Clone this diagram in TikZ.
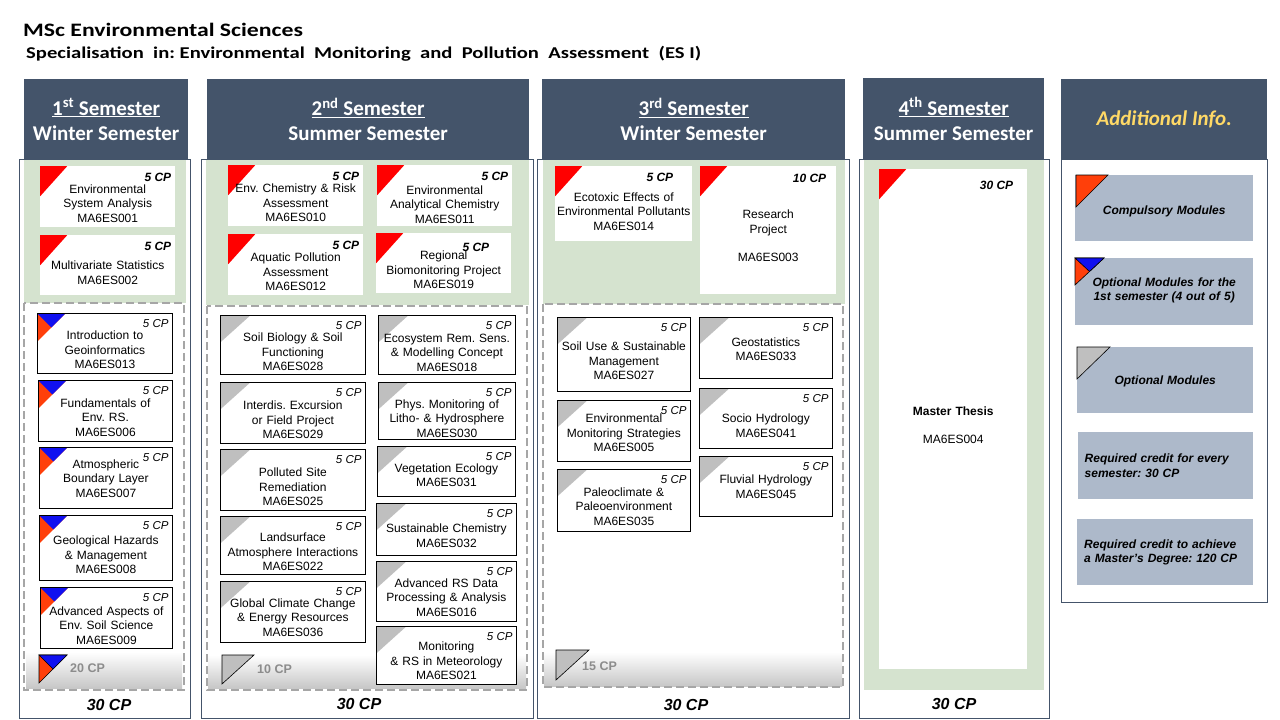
\documentclass[tikz,border=0pt]{standalone}
\usepackage{fontspec}
\setmainfont{Liberation Sans}
\newfontfamily\headfont{Carlito}
\newfontfamily\titlefont{Carlito}[FakeStretch=1.25]

\definecolor{hdr}{HTML}{44546A}
\definecolor{zonegreen}{HTML}{D5E3CF}
\definecolor{legfill}{HTML}{ADB9CA}
\definecolor{gold}{HTML}{FFD966}
\definecolor{cpred}{HTML}{FF0000}
\definecolor{optorange}{HTML}{FF3F0A}
\definecolor{optblue}{HTML}{1010F0}
\definecolor{optgrey}{HTML}{BFBFBF}
\definecolor{dashgrey}{HTML}{A6A6A6}
\definecolor{sumgrey}{HTML}{8C8C8C}

\newcommand\modfnt{\fontsize{12}{14.5}\selectfont}
\newcommand\cpfnt{\fontsize{12}{13}\selectfont\bfseries\itshape}
\newcommand\ocpfnt{\fontsize{11.5}{13}\selectfont\itshape}
\newcommand\legfnt{\fontsize{12}{14.5}\selectfont\bfseries\itshape}
\newcommand\totfnt{\fontsize{16}{18}\selectfont\bfseries\itshape}
\newcommand\sumfnt{\fontsize{12.5}{14}\selectfont\bfseries}

\tikzset{
  modbase/.style={anchor=north west, inner sep=0pt, align=center, font=\modfnt, text height=22pt},
  sz/.style 2 args={minimum width=#1pt, minimum height=#2pt, text width=#1pt},
  cplab/.style={anchor=north east, inner xsep=4pt, inner ysep=6.5pt, font=\cpfnt},
  cp/.style={label={[cplab]north east:{#1}}},
  cp/.default={5 CP},
  compmod/.style={modbase, fill=white,
    path picture={\fill[cpred] (path picture bounding box.north west) -- ++(27pt,0pt) -- ++(-27pt,-30pt) -- cycle;}},
  optmod/.style={modbase, fill=white, draw=black, line width=0.75pt,
    label={[cplab,font=\ocpfnt]north east:{5 CP}},
    path picture={\fill[optgrey] (path picture bounding box.north west) -- ++(30pt,0pt) -- ++(-30pt,-27pt) -- cycle;}},
  geomod/.style={optmod,
    path picture={\fill[optorange] (path picture bounding box.north west) -- ++(28pt,0pt) -- ++(-28pt,-28pt) -- cycle;
      \fill[optblue] (path picture bounding box.north west) -- ++(28pt,0pt) -- ++(-14pt,-14pt) -- cycle;}},
  semhead/.style={anchor=north west, fill=hdr, text=white, inner sep=0pt, align=center,
    font=\headfont\bfseries\fontsize{21}{25}\selectfont},
  colframe/.style={draw=hdr, line width=0.8pt, fill=white},
  optzone/.style={draw=dashgrey, line width=2.6pt, dash pattern=on 8pt off 4pt},
  legbox/.style={anchor=north west, fill=legfill, inner sep=0pt, font=\legfnt, text width=162pt, align=center, text height=8.6pt},
  icon/.style={draw=black, line width=0.6pt},
  sumcp/.style={anchor=west, inner sep=0pt, text=sumgrey, font=\sumfnt},
  tot/.style={inner sep=0pt, font=\totfnt}
}

\begin{document}
\frenchspacing
\begin{tikzpicture}[x=1pt,y=-1pt]
  \useasboundingbox (0,0) rectangle (1280,720);

  % title
  \node (title) at (23,36) [anchor=base west, inner sep=0pt, font=\titlefont\bfseries\fontsize{19}{22}\selectfont] {MSc Environmental Sciences};
  \node (subtitle) at (26,58) [anchor=base west, inner sep=0pt, font=\titlefont\bfseries\fontsize{16.5}{19}\selectfont]
    {Specialisation\ \ in: Environmental\ \ Monitoring\ \ and\ \ Pollution\ \ Assessment\ \ (ES I)};

  % column frames
  \draw[colframe] (19,159) rectangle (190,718);
  \draw[colframe] (201,159) rectangle (533,718);
  \draw[colframe] (537,159) rectangle (849,718);
  \draw[colframe] (859,159) rectangle (1049,718);
  \draw[colframe] (1061,159) rectangle (1267,602);

  % compulsory zones
  \fill[zonegreen] (24,160) rectangle (186,303);
  \fill[zonegreen] (206,160) rectangle (529,305);
  \fill[zonegreen] (543,160) rectangle (845,304);
  \fill[zonegreen] (864,160) rectangle (1044,690);

  % optional zones
  \shade[top color=white, bottom color=black!22] (26,652) rectangle (182,688);
  \shade[top color=white, bottom color=black!22] (208,655) rectangle (526,688);
  \shade[top color=white, bottom color=black!22] (544,652) rectangle (842,686);
  \draw[optzone] (24,303) rectangle (184,690);
  \draw[optzone] (207,306) rectangle (527,690);
  \draw[optzone] (543,304) rectangle (843,687);

  % headers
  \node (h1) at (24,79) [semhead, minimum width=164pt, minimum height=80pt] {\underline{1\textsuperscript{st} Semester}\\Winter Semester};
  \node (h2) at (207,79) [semhead, minimum width=322pt, minimum height=80pt] {\underline{2\textsuperscript{nd} Semester}\\Summer Semester};
  \node (h3) at (542,79) [semhead, minimum width=303pt, minimum height=80pt] {\underline{3\textsuperscript{rd} Semester}\\Winter Semester};
  \node (h4) at (863,78) [semhead, minimum width=181pt, minimum height=81pt] {\underline{4\textsuperscript{th} Semester}\\Summer Semester};
  \node (h5) at (1061,79) [semhead, minimum width=206pt, minimum height=81pt, text=gold, font=\headfont\bfseries\itshape\fontsize{21}{25}\selectfont] {Additional Info.};

  % 1st semester
  \node (m1) at (40,166) [compmod, sz={135}{61}, cp] {Environmental\\System Analysis\\MA6ES001};
  \node (m2) at (40,235) [compmod, sz={135}{60}, cp, text height=24pt] {Multivariate Statistics\\MA6ES002};
  \node (o1) at (37,313) [geomod, sz={135}{60}] {Introduction to\\Geoinformatics\\MA6ES013};
  \node (o2) at (38,380) [geomod, sz={134}{61}] {Fundamentals of\\Env. RS.\\MA6ES006};
  \node (o3) at (39,447) [geomod, sz={133}{61}, text height=10pt] {Atmospheric\\Boundary Layer\\MA6ES007};
  \node (o4) at (39,515) [geomod, sz={133}{65}, text height=23pt] {Geological Hazards\\\& Management\\MA6ES008};
  \node (o5) at (40,587) [geomod, sz={132}{61}, text height=24pt] {Advanced Aspects of\\Env. Soil Science\\MA6ES009};

  % 2nd semester
  \node (m3) at (228,165) [compmod, sz={135}{61}, cp, text height=23pt] {Env. Chemistry \& Risk\\Assessment\\MA6ES010};
  \node (m4) at (377,165) [compmod, sz={135}{61}, cp, text height=26pt] {Environmental\\Analytical Chemistry\\MA6ES011};
  \node (m5) at (228,234) [compmod, sz={135}{61}, cp, text height=23pt] {Aquatic Pollution\\Assessment\\MA6ES012};
  \node (m6) at (376,233) [compmod, sz={135}{60}, label={[cplab, xshift=-18pt, yshift=-3pt]north east:{5 CP}}] {Regional\\Biomonitoring Project\\MA6ES019};
  \node (o6) at (220,315) [optmod, sz={145}{59}, text height=23pt] {Soil Biology \& Soil\\Functioning\\MA6ES028};
  \node (o7) at (378,315) [optmod, sz={137}{59}, text height=24pt] {Ecosystem Rem. Sens.\\\& Modelling Concept\\MA6ES018};
  \node (o8) at (220,382) [optmod, sz={145}{61}, text height=23pt] {Interdis. Excursion\\or Field Project\\MA6ES029};
  \node (o9) at (378,382) [optmod, sz={137}{57}, text height=24pt] {Phys. Monitoring of\\Litho- \& Hydrosphere\\MA6ES030};
  \node (o10) at (220,449) [optmod, sz={145}{61}, text height=23pt] {Polluted Site\\Remediation\\MA6ES025};
  \node (o11) at (377,446) [optmod, sz={138}{50}, text height=16pt] {Vegetation Ecology\\MA6ES031};
  \node (o12) at (220,516) [optmod, sz={145}{58}] {Landsurface\\Atmosphere Interactions\\MA6ES022};
  \node (o13) at (376,503) [optmod, sz={140}{52}, text height=21pt] {Sustainable Chemistry\\MA6ES032};
  \node (o14) at (220,581) [optmod, sz={145}{61}, text height=20pt] {Global Climate Change\\\& Energy Resources\\MA6ES036};
  \node (o15) at (376,561) [optmod, sz={140}{60}, text height=21pt] {Advanced RS Data\\Processing \& Analysis\\MA6ES016};
  \node (o16) at (376,626) [optmod, sz={140}{58}, text height=20pt] {Monitoring\\\& RS in Meteorology\\MA6ES021};

  % 3rd semester
  \node (m7) at (555,166) [compmod, sz={137}{75}, text height=24pt, label={[cplab, xshift=-15pt]north east:{5 CP}}] {Ecotoxic Effects of\\Environmental Pollutants\\MA6ES014};
  \node (m8) at (700,166) [compmod, sz={136}{128}, text height=20pt, label={[cplab, xshift=-6pt, yshift=-1pt]north east:{10 CP}}] {Research\\Project\\[14pt]MA6ES003};
  \node (o17) at (557,317) [optmod, sz={133}{74}] {Soil Use \& Sustainable\\Management\\MA6ES027};
  \node (o18) at (699,317) [optmod, sz={133}{61}, text height=11pt] {Geostatistics\\MA6ES033};
  \node (o19) at (557,400) [optmod, sz={133}{61}, text height=13pt] {Environmental\\Monitoring Strategies\\MA6ES005};
  \node (o20) at (699,388) [optmod, sz={133}{60}, text height=23pt] {Socio Hydrology\\MA6ES041};
  \node (o21) at (557,469) [optmod, sz={133}{62}, text height=21pt] {Paleoclimate \&\\Paleoenvironment\\MA6ES035};
  \node (o22) at (699,456) [optmod, sz={133}{60}, text height=9.5pt] {Fluvial Hydrology\\MA6ES045};

  % 4th semester
  \node (m9) at (879,169) [compmod, sz={148}{500}, text height=21pt, label={[cplab, xshift=-10pt, yshift=-5pt]north east:{30 CP}}] {\textbf{Master Thesis}\\[13pt]MA6ES004};

  % credits of the optional parts
  \filldraw[icon, fill=optorange] (39,655) -- ++(28,0) -- ++(-28,28) -- cycle;
  \filldraw[icon, fill=optblue] (39,655) -- ++(28,0) -- ++(-14,14) -- cycle;
  \node (sum1) at (70,668) [sumcp] {20 CP};
  \filldraw[icon, fill=optgrey] (222,655) -- ++(32,0) -- ++(-32,29) -- cycle;
  \node (sum2) at (257,669) [sumcp] {10 CP};
  \filldraw[icon, fill=optgrey] (556,650) -- ++(33,0) -- ++(-33,30) -- cycle;
  \node (sum3) at (582,666) [sumcp] {15 CP};

  % credits per semester
  \node (t1) at (109,705) [tot] {30 CP};
  \node (t2) at (359,704) [tot] {30 CP};
  \node (t3) at (686,705) [tot] {30 CP};
  \node (t4) at (954,704) [tot] {30 CP};

  % additional info
  \node (l1) at (1075,175) [legbox, minimum width=178pt, minimum height=66pt, text height=14.6pt] {Compulsory Modules};
  \node (l2) at (1075,258) [legbox, minimum width=178pt, minimum height=67pt, text height=5.6pt] {Optional Modules for the\\1st semester (4 out of 5)};
  \node (l3) at (1077,347) [legbox, minimum width=176pt, minimum height=66pt, text height=10.6pt] {Optional Modules};
  \node (l4) at (1078,432) [legbox, minimum width=175pt, minimum height=67pt, align=left] {Required credit for every\\semester: 30 CP};
  \node (l5) at (1077,519) [legbox, minimum width=176pt, minimum height=66pt, align=left] {Required credit to achieve\\a Master's Degree: 120 CP};
  \filldraw[icon, fill=optorange] (1076,175) -- ++(32,0) -- ++(-32,32) -- cycle;
  \filldraw[icon, fill=optorange] (1075,258) -- ++(29,0) -- ++(-29,27) -- cycle;
  \filldraw[icon, fill=optblue] (1075,258) -- ++(29,0) -- ++(-14.5,13.5) -- cycle;
  \filldraw[icon, fill=optgrey] (1077,347) -- ++(33,0) -- ++(-33,32) -- cycle;
\end{tikzpicture}
\end{document}
